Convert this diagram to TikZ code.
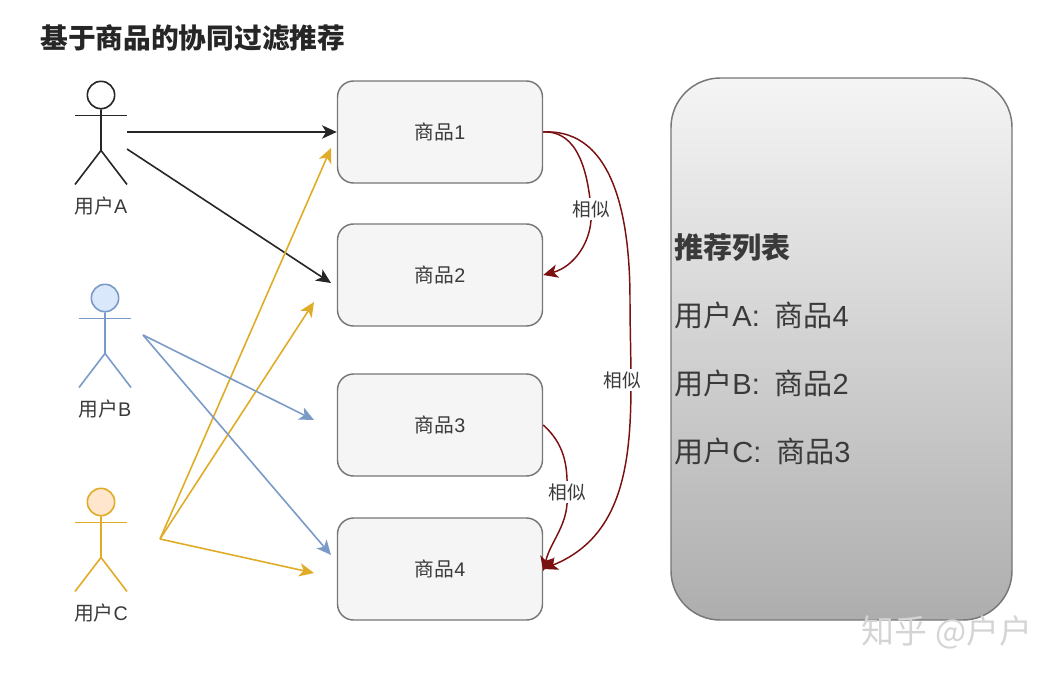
\documentclass[tikz,border=0pt]{standalone}
\usepackage{fontspec}
\setmainfont{Liberation Sans}
\newfontfamily\cjk{Noto Sans CJK SC}
\usepackage{xcolor}
\usetikzlibrary{arrows.meta}
\definecolor{boxfill}{HTML}{F5F5F5}
\definecolor{boxline}{HTML}{777777}
\definecolor{blueline}{HTML}{7A9AC8}
\definecolor{bluefill}{HTML}{DAE8FC}
\definecolor{orangeline}{HTML}{E0AC28}
\definecolor{orangefill}{HTML}{FFE6CC}
\definecolor{simred}{HTML}{7A1010}
\definecolor{inktext}{HTML}{3A3A3A}
\tikzset{
itembox/.style={draw=boxline, fill=boxfill, rounded corners=12pt, line width=1.1pt, minimum width=153.75pt, minimum height=76.5pt, font=\fontsize{14.8pt}{16pt}\selectfont, text=inktext},
actorhead/.style={circle, draw, line width=1.2pt, minimum size=20.5pt, inner sep=0pt},
actorlabel/.style={font=\fontsize{14.8pt}{16pt}\selectfont, text=inktext},
linkarrow/.style={-{Stealth[length=11pt,width=10pt,inset=3pt]}, line width=1.2pt},
simarrow/.style={linkarrow, draw=simred, line width=1.1pt},
simlabel/.style={fill=white, inner sep=1.5pt, font=\cjk\fontsize{14pt}{16pt}\selectfont, text=inktext},
listline/.style={anchor=west, inner sep=0pt, font=\fontsize{21.8pt}{24pt}\selectfont, text=inktext}
}

\begin{document}
\begin{tikzpicture}[x=0.75pt,y=-0.75pt]

\useasboundingbox (0,0) rectangle (1060,676);

\node [anchor=west, inner sep=0pt, font=\cjk\fontsize{20.8pt}{24pt}\selectfont\bfseries, text=black!85] (title) at (40,38) {基于商品的协同过滤推荐};

% actors
\foreach \who/\x/\y/\col/\bg in {A/101/95/black!85/white, B/105/298/blueline/bluefill, C/101/502/orangeline/orangefill} {
  \node [actorhead, draw=\col, fill=\bg] (head\who) at (\x,\y) {};
  \draw [\col, line width=1.2pt] (head\who.south) -- ++(0,41) coordinate (hip\who) -- ++(-26,34);
  \draw [\col, line width=1.2pt] (hip\who) -- ++(26,34);
  \draw [\col, line width=1.2pt] (\x-26,\y+20.5) -- (\x+26,\y+20.5);
  \node [actorlabel] (label\who) at (\x,\y+111) {{\cjk 用户}\who};
}

% items
\foreach \i/\y in {1/132,2/275,3/425,4/569} {
  \node [itembox] (item\i) at (440,\y) {{\cjk 商品}\i};
}

% list
\node [draw=boxline, rounded corners=37pt, line width=1.1pt, top color=black!4, bottom color=black!32, minimum width=255.75pt, minimum height=406.5pt] (listbox) at (841.5,349) {};
\node [listline, font=\cjk\fontsize{21.8pt}{24pt}\selectfont\bfseries] (listhead) at (674,248) {推荐列表};
\node [listline] (listA) at (674,315) {{\cjk 用户}A:\hspace{11pt}{\cjk 商品}4};
\node [listline] (listB) at (674,383) {{\cjk 用户}B:\hspace{11pt}{\cjk 商品}2};
\node [listline] (listC) at (674,451) {{\cjk 用户}C:\hspace{11pt}{\cjk 商品}3};

% free ends of the arrows
\coordinate (handA1) at (127,132);
\coordinate (handA2) at (127,149);
\coordinate (handB) at (143,335);
\coordinate (handC) at (160,539);
\coordinate (tipA2) at (331,283);
\coordinate (tipB3) at (314,420);
\coordinate (tipB4) at (331,555);
\coordinate (tipC1) at (331,148);
\coordinate (tipC2) at (314,302);
\coordinate (tipC4) at (314,573);

\draw [linkarrow, black!85] (handA1) -- (item1.west);
\draw [linkarrow, black!85] (handA2) -- (tipA2);
\foreach \t in {tipC1,tipC2,tipC4} {\draw [linkarrow, orangeline] (handC) -- (\t);}
\foreach \t in {tipB3,tipB4} {\draw [linkarrow, blueline] (handB) -- (\t);}

% similar items
\coordinate (bendA) at (591,209);
\coordinate (bendB) at (630,300);
\coordinate (bendC) at (567,492);
\draw [simarrow] (item1.east) to [out=3,in=95] (bendA) to [out=-85,in=15] (item2.east);
\draw [simarrow] (item1.east) to [out=3,in=90] (bendB) to [out=-90,in=22] (item4.east);
\draw [simarrow] (item3.east) to [out=-42,in=88] (bendC) to [out=-85,in=76] ([yshift=-1.5pt]item4.east);
\node [simlabel] (simA) at (bendA) {相似};
\node [simlabel] (simB) at (622,380) {相似};
\node [simlabel] (simC) at (bendC) {相似};

\node [inner sep=0pt, text=black!17, font=\cjk\fontsize{24.7pt}{28pt}\selectfont] (mark) at (947,632) {知乎 @户户};

\end{tikzpicture}
\end{document}
